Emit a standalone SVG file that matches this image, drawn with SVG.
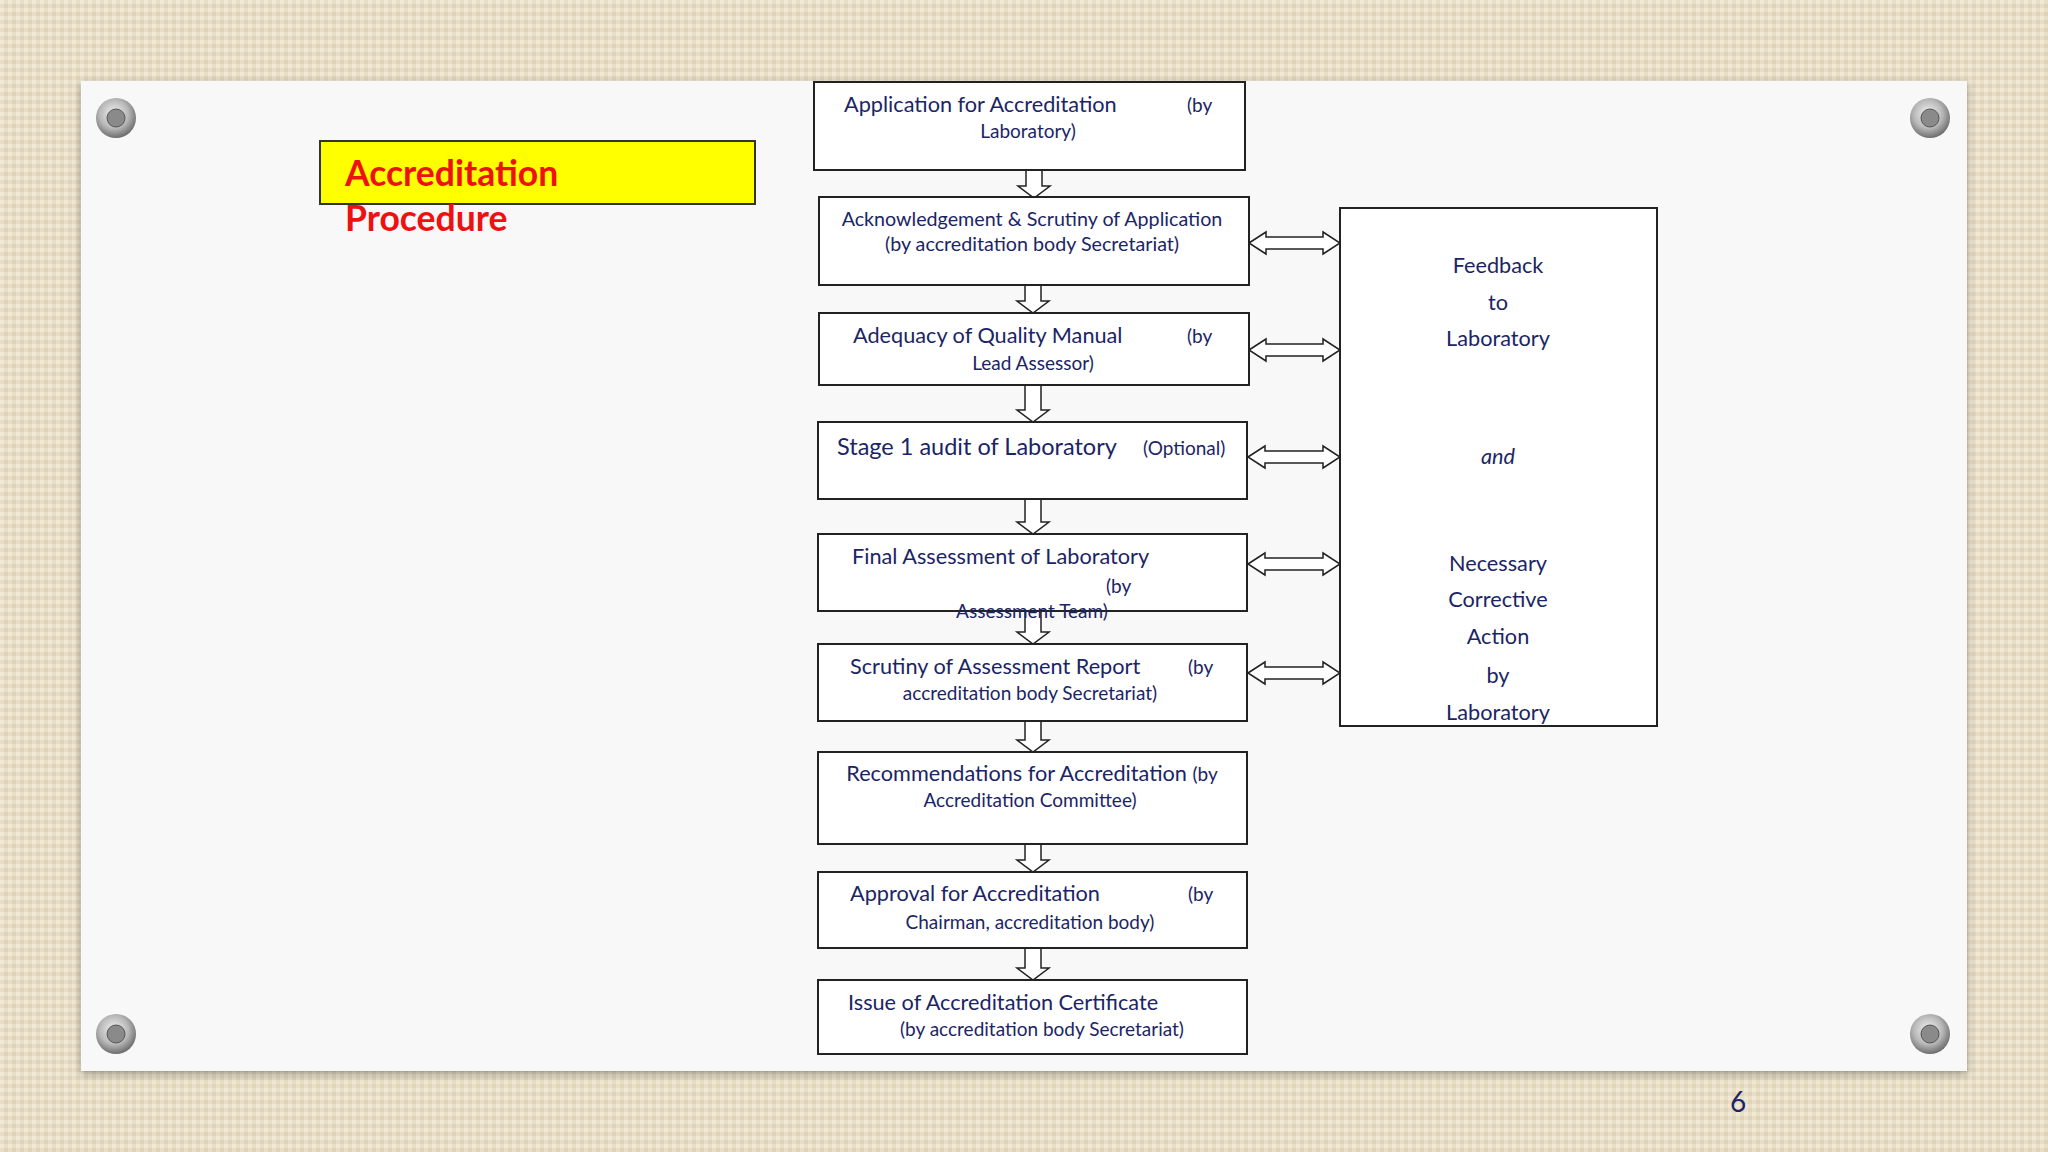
<svg xmlns="http://www.w3.org/2000/svg" width="2048" height="1152" viewBox="0 0 2048 1152">
<defs>
<pattern id="tex" width="8" height="8" patternUnits="userSpaceOnUse">
<rect width="8" height="8" fill="#e9dfc8"/>
<rect x="0" y="0" width="4" height="4" fill="#f1e9d6"/>
<rect x="4" y="4" width="4" height="4" fill="#dfd3b8"/>
</pattern>
<radialGradient id="scr" cx="0.45" cy="0.4" r="0.6">
<stop offset="0" stop-color="#f4f4f4"/><stop offset="0.6" stop-color="#b8b8b8"/><stop offset="1" stop-color="#6e6e6e"/>
</radialGradient>
<filter id="sh" x="-5%" y="-5%" width="110%" height="110%"><feDropShadow dx="0" dy="3" stdDeviation="4" flood-opacity="0.35"/></filter>
<style>
.box{fill:#fff;stroke:#222;stroke-width:2}
.t{font-family:Lato,"Open Sans",sans-serif;fill:#1b2565}
.m{font-size:21.7px}
.s{font-size:19px}
.c{text-anchor:middle}
.arr{fill:#fff;stroke:#222;stroke-width:1.5}
</style>
</defs>
<rect width="2048" height="1152" fill="url(#tex)"/>
<rect x="81" y="81" width="1886" height="990" fill="#f8f8f8" filter="url(#sh)"/>
<g id="screws">
<circle cx="116" cy="118" r="20" fill="url(#scr)"/><circle cx="116" cy="118" r="9" fill="#8a8a8a" stroke="#555"/>
<circle cx="1930" cy="118" r="20" fill="url(#scr)"/><circle cx="1930" cy="118" r="9" fill="#8a8a8a" stroke="#555"/>
<circle cx="116" cy="1034" r="20" fill="url(#scr)"/><circle cx="116" cy="1034" r="9" fill="#8a8a8a" stroke="#555"/>
<circle cx="1930" cy="1034" r="20" fill="url(#scr)"/><circle cx="1930" cy="1034" r="9" fill="#8a8a8a" stroke="#555"/>
</g>
<g id="title">
<rect x="320" y="141" width="435" height="63" fill="#ffff00" stroke="#333" stroke-width="2"/>
<text x="345" y="186" font-family="Lato,'Open Sans',sans-serif" font-size="35.5" font-weight="bold" fill="#ee1111">Accreditation</text>
<text x="345" y="231" font-family="Lato,'Open Sans',sans-serif" font-size="35.5" font-weight="bold" fill="#ee1111">Procedure</text>
</g>
<g id="connectors">
<path class="arr" d="M1026,170 h16 v16 h8 l-16,12 l-16,-12 h8 z"/>
<path class="arr" d="M1025,285 h16 v16 h8 l-16,12 l-16,-12 h8 z"/>
<path class="arr" d="M1025,385 h16 v25 h8 l-16,12 l-16,-12 h8 z"/>
<path class="arr" d="M1025,499 h16 v23 h8 l-16,12 l-16,-12 h8 z"/>
<path class="arr" d="M1025,611 h16 v21 h8 l-16,12 l-16,-12 h8 z"/>
<path class="arr" d="M1025,721 h16 v19 h8 l-16,12 l-16,-12 h8 z"/>
<path class="arr" d="M1025,844 h16 v16 h8 l-16,12 l-16,-12 h8 z"/>
<path class="arr" d="M1025,948 h16 v20 h8 l-16,12 l-16,-12 h8 z"/>
<path class="arr" d="M1249,243 l17,-11 v5 h57 v-5 l17,11 l-17,11 v-5 h-57 v5 z"/>
<path class="arr" d="M1249,350 l17,-11 v5 h57 v-5 l17,11 l-17,11 v-5 h-57 v5 z"/>
<path class="arr" d="M1248,457 l17,-11 v5 h58 v-5 l17,11 l-17,11 v-5 h-58 v5 z"/>
<path class="arr" d="M1248,564 l17,-11 v5 h58 v-5 l17,11 l-17,11 v-5 h-58 v5 z"/>
<path class="arr" d="M1248,673 l17,-11 v5 h58 v-5 l17,11 l-17,11 v-5 h-58 v5 z"/>
</g>
<g id="n1"><rect class="box" x="814" y="82" width="431" height="88"/>
<text class="t m" x="844" y="112">Application for Accreditation</text><text class="t s" x="1187" y="112">(by</text>
<text class="t s c" x="1028" y="138">Laboratory)</text></g>
<g id="n2"><rect class="box" x="819" y="197" width="430" height="88"/>
<text class="t c" font-size="19.7" x="1032" y="226">Acknowledgement &amp; Scrutiny of Application</text>
<text class="t c" font-size="19.7" x="1032" y="251">(by accreditation body Secretariat)</text></g>
<g id="n3"><rect class="box" x="819" y="313" width="430" height="72"/>
<text class="t m" x="853" y="343">Adequacy of Quality Manual</text><text class="t s" x="1187" y="343">(by</text>
<text class="t s c" x="1033" y="370">Lead Assessor)</text></g>
<g id="n4"><rect class="box" x="818" y="422" width="429" height="77"/>
<text class="t" font-size="23.5" x="837" y="455">Stage 1 audit of Laboratory</text><text class="t s" x="1143" y="455">(Optional)</text></g>
<g id="n5"><rect class="box" x="818" y="534" width="429" height="77"/>
<text class="t m" x="852" y="564">Final Assessment of Laboratory</text><text class="t s" x="1106" y="593">(by</text>
<text class="t s c" x="1032" y="618">Assessment Team)</text></g>
<g id="n6"><rect class="box" x="818" y="644" width="429" height="77"/>
<text class="t m" x="850" y="674">Scrutiny of Assessment Report</text><text class="t s" x="1188" y="674">(by</text>
<text class="t s c" x="1030" y="700">accreditation body Secretariat)</text></g>
<g id="n7"><rect class="box" x="818" y="752" width="429" height="92"/>
<text class="t m c" x="1032" y="781">Recommendations for Accreditation <tspan font-size="19">(by</tspan></text>
<text class="t s c" x="1030" y="807">Accreditation Committee)</text></g>
<g id="n8"><rect class="box" x="818" y="872" width="429" height="76"/>
<text class="t m" x="850" y="901">Approval for Accreditation</text><text class="t s" x="1188" y="901">(by</text>
<text class="t s c" x="1030" y="929">Chairman, accreditation body)</text></g>
<g id="n9"><rect class="box" x="818" y="980" width="429" height="74"/>
<text class="t m" x="848" y="1010">Issue of Accreditation Certificate</text>
<text class="t s" x="900" y="1036">(by accreditation body Secretariat)</text></g>
<g id="feedback"><rect class="box" x="1340" y="208" width="317" height="518"/>
<text class="t m c" x="1498" y="273">Feedback</text>
<text class="t m c" x="1498" y="310">to</text>
<text class="t m c" x="1498" y="346">Laboratory</text>
<text class="t m c" x="1498" y="464" font-style="italic">and</text>
<text class="t m c" x="1498" y="571">Necessary</text>
<text class="t m c" x="1498" y="607">Corrective</text>
<text class="t m c" x="1498" y="644">Action</text>
<text class="t m c" x="1498" y="683">by</text>
<text class="t m c" x="1498" y="720">Laboratory</text></g>
<text class="t" font-size="28" x="1730" y="1112">6</text>
</svg>
